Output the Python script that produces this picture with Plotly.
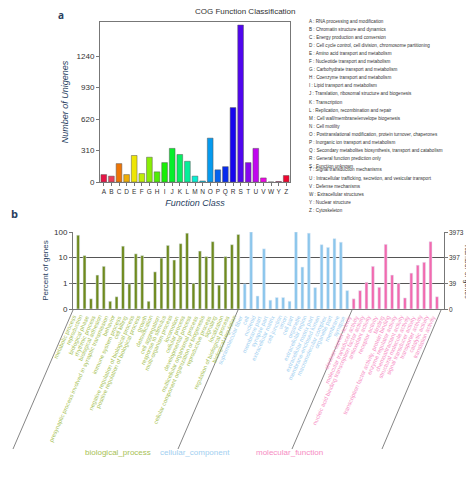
import plotly.graph_objects as go
import colorsys, math

W, H = 468, 467
OX, OY = 5, 6
cog_letters = list("ABCDEFGHIJKLMNOPQRSTUVWYZ")
cog_values = [73, 58, 181, 73, 261, 83, 244, 100, 191, 331, 271, 204, 58, 10, 432, 120, 151, 733, 1546, 191, 331, 40, 0, 5, 64]
cog_desc = ["RNA processing and modification", "Chromatin structure and dynamics", "Energy production and conversion",
 "Cell cycle control, cell division, chromosome partitioning", "Amino acid transport and metabolism",
 "Nucleotide transport and metabolism", "Carbohydrate transport and metabolism", "Coenzyme transport and metabolism",
 "Lipid transport and metabolism", "Translation, ribosomal structure and biogenesis", "Transcription",
 "Replication, recombination and repair", "Cell wall/membrane/envelope biogenesis", "Cell motility",
 "Posttranslational modification, protein turnover, chaperones", "Inorganic ion transport and metabolism",
 "Secondary metabolites biosynthesis, transport and catabolism", "General function prediction only",
 "Function unknown", "Signal transduction mechanisms", "Intracellular trafficking, secretion, and vesicular transport",
 "Defense mechanisms", "Extracellular structures", "Nuclear structure", "Cytoskeleton"]

bp_terms = ["metabolic process", "reproduction", "biological phase", "rhythmic process", "biological adhesion",
 "presynaptic process involved in synaptic transmission", "behavior", "immune system process", "cell killing",
 "negative regulation of biological process", "positive regulation of biological process", "growth",
 "detoxification", "cell aggregation", "response to stimulus", "multi-organism process", "locomotion",
 "cellular process", "developmental process", "multicellular organismal process",
 "cellular component organization or biogenesis", "reproductive process", "signaling", "localization",
 "regulation of biological process", "biological regulation"]
bp_values = [75, 12, 0.15, 2, 4.5, 0.1, 0.2, 28, 0.85, 14, 12, 0.1, 2.7, 9.5, 30, 8, 35, 90, 0.9, 18, 11, 42, 0.75, 11, 32, 80]
cc_terms = ["supramolecular fiber", "cell", "nucleoid", "membrane part", "synapse part", "extracellular matrix",
 "cell junction", "virion", "cell part", "organelle", "extracellular region", "extracellular matrix part",
 "membrane-enclosed lumen", "macromolecular complex", "organelle part", "membrane", "synapse"]
cc_values = [0.85, 100, 0.22, 22, 0.12, 0.18, 0.18, 0.1, 100, 4.2, 90, 0.58, 32, 25, 55, 40, 0.42]
mf_terms = ["electron carrier activity", "molecular transducer activity", "nucleic acid binding transcription factor activity",
 "antioxidant activity", "receptor activity", "binding", "transcription factor activity, protein binding",
 "enzyme regulator activity", "chemoattractant activity", "structural molecule activity", "signal transducer activity",
 "transporter activity", "catalytic activity", "translation activity"]
mf_values = [0.15, 0.42, 1, 4.5, 0.6, 33, 2, 0.9, 0.17, 2.4, 5, 6.5, 42, 0.2]
pct_ticks = [0.1, 1, 10, 100]
right_ticktext = ["0", "39", "397", "3973"]

def px(x): return (x - OX) / W
def py(y): return 1 - (y - OY) / H

fig = go.Figure()
n = len(cog_letters)
cols = []
for i in range(n):
    h = (i / (n - 1)) * 0.96 if i < n - 1 else 0.97
    r, g, b = colorsys.hls_to_rgb(h, 0.48, 0.95)
    cols.append(f"rgb({int(r*255)},{int(g*255)},{int(b*255)})")
cols[0] = "rgb(230,20,70)"; cols[1] = "rgb(235,60,90)"
fig.add_trace(go.Bar(x=cog_letters, y=cog_values, marker=dict(color=cols, line=dict(color="#555", width=0.5)),
                     width=0.75, xaxis="x", yaxis="y", showlegend=False))

green, blue, pink = "#6f8a1e", "#8cc6ec", "#f26aaf"
gl, bl, pl = "#a7bf55", "#9fcff0", "#f68cc3"
all_terms = bp_terms + cc_terms + mf_terms
all_vals = bp_values + cc_values + mf_values
all_cols = [green]*len(bp_terms) + [blue]*len(cc_terms) + [pink]*len(mf_terms)
lab_cols = [gl]*len(bp_terms) + [bl]*len(cc_terms) + [pl]*len(mf_terms)
pos = list(range(len(all_terms)))
fig.add_trace(go.Bar(x=pos, y=all_vals, marker_color=all_cols, width=0.45, xaxis="x2", yaxis="y2",
                     showlegend=False, base=0.1))

ax = dict(showline=True, linecolor="#777", mirror=True, ticks="outside", ticklen=3, tickcolor="#777",
          automargin=False, tickfont=dict(size=8, family="Liberation Sans", color="#333"))
fig.update_layout(
    width=W, height=H, margin=dict(l=0, r=0, t=0, b=0, autoexpand=False), plot_bgcolor="white",
    paper_bgcolor="white", bargap=0.25,
    xaxis=dict(ax, domain=[px(97), px(287)], anchor="y", tickmode="array", tickvals=cog_letters,
               tickangle=0, tickfont=dict(size=6.5, family="Liberation Sans", color="#333"),
               title=dict(text="<i>Function Class</i>", font=dict(size=9, family="Liberation Sans"), standoff=4)),
    yaxis=dict(ax, domain=[py(180), py(20)], range=[0, 1576], tickvals=[0, 310, 620, 930, 1240],
               showgrid=False, anchor="x",
               title=dict(text="<i>Number of Unigenes</i>", font=dict(size=9, family="Liberation Sans"), standoff=6)),
    xaxis2=dict(domain=[px(70), px(441)], range=[-0.8, 57.1], anchor="y2", showticklabels=False,
                showline=True, linecolor="#777", ticks="", showgrid=False, zeroline=False, automargin=False),
    yaxis2=dict(ax, domain=[py(307), py(230)], type="log", range=[-1, 2], mirror="ticks", anchor="x2",
                tickvals=pct_ticks, ticktext=["0", "1", "10", "100"], showgrid=True,
                gridcolor="#555", gridwidth=1,
                title=dict(text="Percent of genes", font=dict(size=8, family="Liberation Sans"), standoff=4)),
)

anns = []
anns.append(dict(text="<b>a</b>", x=px(53), y=py(4), xref="paper", yref="paper", showarrow=False, font=dict(size=10)))
anns.append(dict(text="<b>b</b>", x=px(6), y=py(211), xref="paper", yref="paper", xanchor="left",
                 showarrow=False, font=dict(size=11)))
anns.append(dict(text="COG Function Classification", x=px(242), y=py(3), xref="paper", yref="paper",
                 showarrow=False, font=dict(size=8, family="Liberation Sans", color="#333")))
for v, t in zip(pct_ticks, right_ticktext):
    ypix = 307 - (math.log10(v) + 1) / 3 * 77
    anns.append(dict(text=t, x=px(444), y=py(ypix), xref="paper", yref="paper", xanchor="left", showarrow=False,
                     font=dict(size=6.5, family="Liberation Sans", color="#333")))
anns.append(dict(text="Number of genes", x=px(470), y=py(270), xref="paper", yref="paper", textangle=90,
                 showarrow=False, font=dict(size=7, family="Liberation Sans", color="#333")))
for i, (l, d) in enumerate(zip(cog_letters, cog_desc)):
    anns.append(dict(text=f"{l} : {d}", x=px(304), y=py(15 + i * 8.05), xref="paper", yref="paper",
                     xanchor="left", showarrow=False, font=dict(size=4.6, family="Liberation Sans", color="#333")))
for p, t, c in zip(pos, all_terms, lab_cols):
    anns.append(dict(text=t, x=p + 0.3, y=py(310), xref="x2", yref="paper", xanchor="right", yanchor="top",
                     textangle=-66, showarrow=False, font=dict(size=5.8, family="Liberation Sans", color=c)))
for t, x, c in [("biological_process", 80, gl), ("cellular_component", 192, bl), ("molecular_function", 322, pl)]:
    anns.append(dict(text=t, x=px(x), y=py(457), xref="paper", yref="paper", showarrow=False,
                     font=dict(size=8, family="Liberation Sans", color=c)))
fig.update_layout(annotations=anns)

shapes = []
for xt, xb in [(70, 10), (235, 175), (349, 289), (438, 379)]:
    shapes.append(dict(type="line", xref="paper", yref="paper", x0=px(xt), y0=py(308), x1=px(xb), y1=py(447),
                       line=dict(color="#666", width=0.8)))
fig.update_layout(shapes=shapes)
fig.write_html("out.html")
